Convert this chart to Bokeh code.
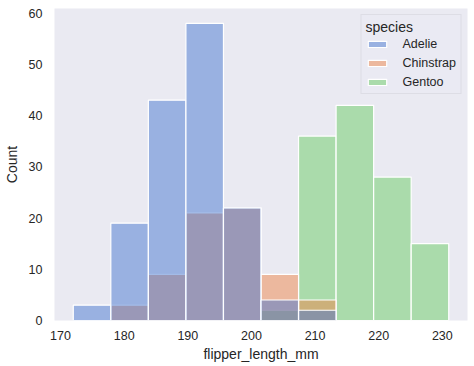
from bokeh.plotting import figure
from bokeh.models import ColumnDataSource, Legend, LegendItem, FixedTicker, Range1d
from bokeh.embed import file_html
from bokeh.resources import INLINE

bin_edges = [172.0, 177.9, 183.8, 189.7, 195.6, 201.5, 207.4, 213.3, 219.2, 225.1, 231.0]
species = ["Adelie", "Chinstrap", "Gentoo"]
adelie = [3, 19, 43, 58, 22, 4, 2, 0, 0, 0]
chinstrap = [0, 3, 9, 21, 22, 9, 4, 0, 0, 0]
gentoo = [0, 0, 0, 0, 0, 2, 36, 42, 28, 15]
colors = {"Adelie": "#4878d0", "Chinstrap": "#ee854a", "Gentoo": "#6acc64"}
counts = {"Adelie": adelie, "Chinstrap": chinstrap, "Gentoo": gentoo}
x_ticks = [170, 180, 190, 200, 210, 220, 230]
y_ticks = [0, 10, 20, 30, 40, 50, 60]

span = bin_edges[-1] - bin_edges[0]
p = figure(width=474, height=366, output_backend="svg", toolbar_location=None,
           x_range=Range1d(bin_edges[0] - 0.05 * span, bin_edges[-1] + 0.05 * span),
           y_range=Range1d(0, max(adelie) * 1.05),
           min_border_left=49, min_border_right=7, min_border_top=8, min_border_bottom=46)
p.background_fill_color = "#eaeaf2"
p.border_fill_color = "white"
p.outline_line_color = None
p.grid.visible = False

renderers = {}
for sp in reversed(species):
    c = counts[sp]
    src = ColumnDataSource(dict(left=bin_edges[:-1], right=bin_edges[1:],
                                top=c, bottom=[0] * len(c)))
    renderers[sp] = p.quad(left="left", right="right", top="top", bottom="bottom", source=src,
                           fill_color=colors[sp], fill_alpha=0.5,
                           line_color="white", line_width=1.2)

for ax in (p.xaxis[0], p.yaxis[0]):
    ax.axis_line_color = None
    ax.major_tick_line_color = None
    ax.minor_tick_line_color = None
    ax.major_tick_out = 0
    ax.major_tick_in = 0
    ax.minor_tick_out = 0
    ax.minor_tick_in = 0
    ax.major_label_text_font = "Liberation Sans"
    ax.major_label_text_font_size = "12.5px"
    ax.major_label_text_color = "#262626"
    ax.axis_label_text_font = "Liberation Sans"
    ax.axis_label_text_font_size = "14px"
    ax.axis_label_text_font_style = "normal"
    ax.axis_label_text_color = "#262626"

p.xaxis.ticker = FixedTicker(ticks=x_ticks)
p.yaxis.ticker = FixedTicker(ticks=y_ticks)
p.xaxis.axis_label = "flipper_length_mm"
p.yaxis.axis_label = "Count"
p.xaxis.major_label_standoff = 10
p.yaxis.major_label_standoff = 12
p.xaxis.axis_label_standoff = 3
p.yaxis.axis_label_standoff = 6

legend = Legend(items=[LegendItem(label=sp, renderers=[renderers[sp]]) for sp in species],
                location="top_right", title="species")
legend.title_text_font = "Liberation Sans"
legend.title_text_font_size = "14px"
legend.title_text_font_style = "normal"
legend.title_text_color = "#262626"
legend.title_standoff = 1
legend.label_text_font = "Liberation Sans"
legend.label_text_font_size = "12.5px"
legend.label_text_color = "#262626"
legend.label_standoff = 14
legend.glyph_width = 23
legend.glyph_height = 8
legend.label_height = 15
legend.spacing = 4
legend.padding = 4
legend.margin = 6
legend.background_fill_color = "#eaeaf2"
legend.background_fill_alpha = 0.8
legend.border_line_color = "#cfcfd8"
legend.border_line_width = 1
p.add_layout(legend, "center")

open("out.html", "w").write(file_html(p, INLINE))
